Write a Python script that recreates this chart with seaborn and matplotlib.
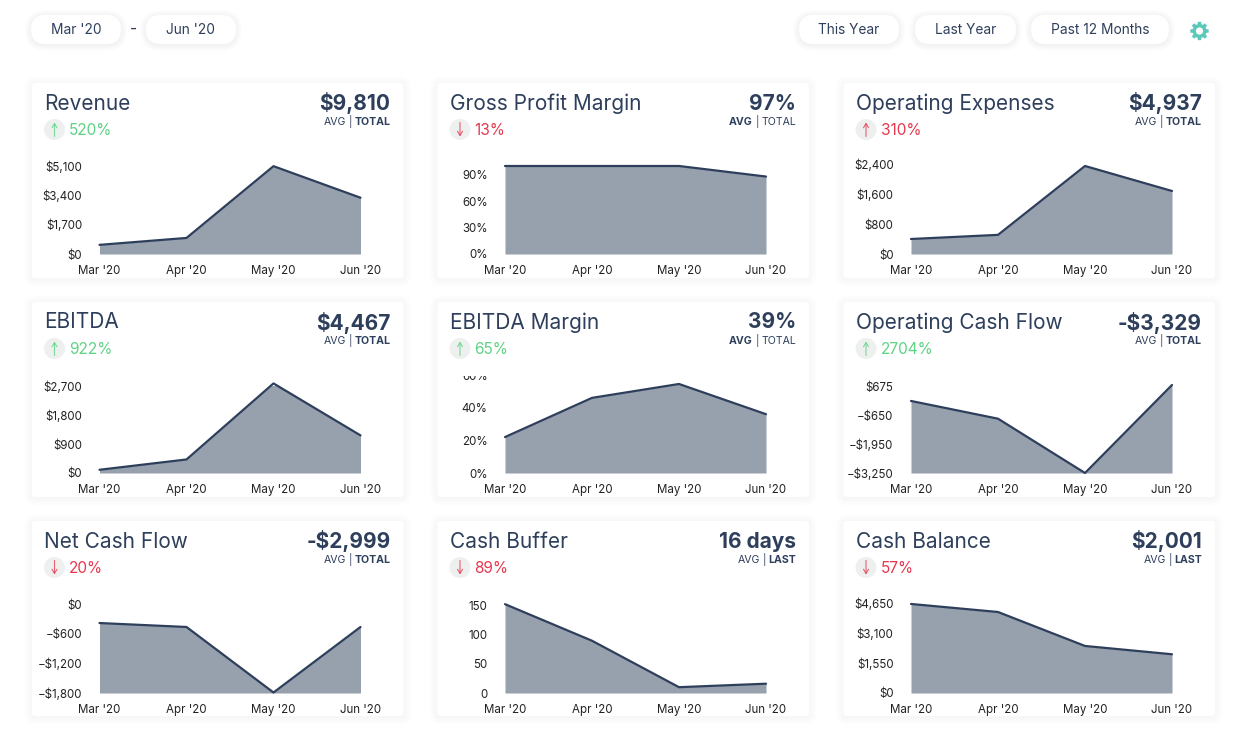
import numpy as np
import pandas as pd
import matplotlib
matplotlib.use("Agg")
import matplotlib.pyplot as plt
from matplotlib.patches import FancyBboxPatch, Circle, Polygon, Rectangle
from matplotlib.ticker import FixedLocator
import seaborn as sns

months = ["Mar '20", "Apr '20", "May '20", "Jun '20"]
titles = ["Revenue", "Gross Profit Margin", "Operating Expenses",
          "EBITDA", "EBITDA Margin", "Operating Cash Flow",
          "Net Cash Flow", "Cash Buffer", "Cash Balance"]
headline = ["$9,810", "97%", "$4,937", "$4,467", "39%", "-$3,329", "-$2,999", "16 days", "$2,001"]
deltas = ["520%", "13%", "310%", "922%", "65%", "2704%", "20%", "89%", "57%"]
delta_up = [True, False, True, True, True, True, False, False, False]
delta_good = [True, False, False, True, True, True, False, False, False]
second_word = ["TOTAL", "TOTAL", "TOTAL", "TOTAL", "TOTAL", "TOTAL", "TOTAL", "LAST", "LAST"]
bold_word = ["second", "first", "second", "second", "first", "second", "second", "second", "second"]

revenue = [530, 930, 5090, 3260]
gross_margin = [100, 100, 100, 88]
opex = [400, 510, 2347, 1680]
ebitda = [100, 420, 2780, 1167]
ebitda_margin = [22, 46, 54.5, 36]
op_cash = [0, -800, -3250, 721]
net_cash = [-385, -465, -1790, -465]
buffer_days = [153, 90, 10, 16]
balance = [4600, 4185, 2430, 2001]
series = [revenue, gross_margin, opex, ebitda, ebitda_margin, op_cash, net_cash, buffer_days, balance]

ticks = [[0, 1700, 3400, 5100], [0, 30, 60, 90], [0, 800, 1600, 2400],
         [0, 900, 1800, 2700], [0, 20, 40, 60], [-3250, -1950, -650, 675],
         [-1800, -1200, -600, 0], [0, 50, 100, 150], [0, 1550, 3100, 4650]]
tick_labels = [["$0", "$1,700", "$3,400", "$5,100"], ["0%", "30%", "60%", "90%"],
               ["$0", "$800", "$1,600", "$2,400"], ["$0", "$900", "$1,800", "$2,700"],
               ["0%", "20%", "40%", "60%"], ["\u2212$3,250", "\u2212$1,950", "\u2212$650", "$675"],
               ["\u2212$1,800", "\u2212$1,200", "\u2212$600", "$0"], ["0", "50", "100", "150"],
               ["$0", "$1,550", "$3,100", "$4,650"]]
ylims = [(0, 5100), (0, 100), (0, 2400), (0, 2700), (0, 60), (-3250, 675), (-1800, 0), (0, 155), (0, 4650)]
ax_heights = [88, 88, 90, 87, 98, 87, 89, 90, 90]

date_pills = [("Mar '20", 31, 121), ("Jun '20", 146, 236)]
range_pills = [("This Year", 799, 899), ("Last Year", 915, 1016), ("Past 12 Months", 1031, 1169)]

W, H = 1241, 734
NAVY = "#2E3F5C"
FILL = "#97A1AE"
GREEN = "#5FD285"
RED = "#E63950"
TEAL = "#5CC8B9"
FONT = "Inter"

sns.set_theme(style="white")
plt.rcParams["font.family"] = [FONT, "DejaVu Sans"]

fig = plt.figure(figsize=(W / 100, H / 100), dpi=100, facecolor="white")
bg = fig.add_axes([0, 0, 1, 1], zorder=0)
bg.set_xlim(0, W)
bg.set_ylim(H, 0)
bg.axis("off")


def soft_box(x0, y0, x1, y1, rad, spread=8, strength=0.005):
    for i in range(spread, 0, -1):
        bg.add_patch(FancyBboxPatch((x0 - i, y0 - i + 1), x1 - x0 + 2 * i, y1 - y0 + 2 * i,
                                    boxstyle=f"round,pad=0,rounding_size={rad + i}",
                                    fc="#3a4a66", ec="none", alpha=strength))
    bg.add_patch(FancyBboxPatch((x0, y0), x1 - x0, y1 - y0,
                                boxstyle=f"round,pad=0,rounding_size={rad}",
                                fc="white", ec="none"))


for label, x0, x1 in date_pills + range_pills:
    soft_box(x0, 15, x1, 44, 14.5, spread=6, strength=0.008)
    bg.text((x0 + x1) / 2, 30.5, label, ha="center", va="center", fontsize=9.9, color=NAVY)
bg.text(133.5, 29, "-", ha="center", va="center", fontsize=11, color=NAVY)

# gear icon
gx, gy = 1199.5, 31
angles = np.linspace(0, 2 * np.pi, 97)
radii = np.where(np.cos(8 * angles) > -0.1, 9.2, 7.0)
bg.add_patch(Polygon(np.c_[gx + radii * np.sin(angles), gy + radii * np.cos(angles)],
                     closed=True, fc=TEAL, ec="none"))
bg.add_patch(Circle((gx, gy), 3.6, fc="white", ec="none"))

col_x = [32, 437.5, 843.5]
row_y = [83, 302, 521]
card_w, card_h = 371.5, 195

for idx, name in enumerate(titles):
    r, c = divmod(idx, 3)
    cx, cy = col_x[c], row_y[r]
    soft_box(cx, cy, cx + card_w, cy + card_h, 3)
    color = GREEN if delta_good[idx] else RED

    bg.text(cx + 12, cy + 20.5, name, ha="left", va="center", fontsize=15, color=NAVY)
    right = cx + card_w - 13
    bg.text(right, cy + 20.5, headline[idx], ha="right", va="center", fontsize=15,
            fontweight="bold", color=NAVY)

    renderer = fig.canvas.get_renderer()
    first_bold = bold_word[idx] == "first"
    t2 = bg.text(right, cy + 39, second_word[idx], ha="right", va="center", fontsize=7.6,
                 fontweight="normal" if first_bold else "bold", color=NAVY)
    x2 = t2.get_window_extent(renderer).x0
    t3 = bg.text(x2 - 2.5, cy + 38.5, "|", ha="right", va="center", fontsize=7.6, color=NAVY)
    x3 = t3.get_window_extent(renderer).x0
    bg.text(x3 - 2.5, cy + 39, "AVG", ha="right", va="center", fontsize=7.6,
            fontweight="bold" if first_bold else "normal", color=NAVY)

    # delta badge
    bx, by = cx + 22.5, cy + 46.5
    bg.add_patch(Circle((bx, by), 10.5, fc="#EEF0EF", ec="none"))
    start, end = (by + 7, by - 7) if delta_up[idx] else (by - 7, by + 7)
    bg.annotate("", xy=(bx, end), xytext=(bx, start),
                arrowprops=dict(arrowstyle="->,head_length=0.25,head_width=0.15",
                                color=color, lw=0.8, alpha=0.8, shrinkA=0, shrinkB=0))
    bg.text(cx + 37, by + 1, deltas[idx], ha="left", va="center", fontsize=11.1, color=color)

    # chart
    base = [254, 473, 693][r]
    ax_left = cx + 67.5
    ax_w = 261
    hpx = ax_heights[idx]
    ax = fig.add_axes([ax_left / W, 1 - base / H, ax_w / W, hpx / H], zorder=2)
    ax.patch.set_alpha(0)
    df = pd.DataFrame({"month": months, "value": series[idx]})
    pos = np.arange(len(months))
    ymin, ymax = ylims[idx]
    ax.fill_between(pos, df["value"], ymin, color=FILL, lw=0, zorder=1)
    sns.lineplot(data=df.assign(pos=pos), x="pos", y="value", color=NAVY, lw=1.6, sort=False,
                 ax=ax, errorbar=None, zorder=2, clip_on=False)
    ax.set_xlim(0, len(months) - 1)
    ax.set_ylim(ymin, ymax)
    ax.set_xticks(pos, months)
    ax.yaxis.set_major_locator(FixedLocator(ticks[idx]))
    ax.set_yticklabels(tick_labels[idx])
    ax.set_xlabel("")
    ax.set_ylabel("")
    ax.tick_params(axis="x", length=0, pad=8, labelsize=8.3, labelcolor="#222222")
    ax.tick_params(axis="y", length=0, pad=12.5, labelsize=8.3, labelcolor="#222222")
    for spine in ax.spines.values():
        spine.set_visible(False)
    ax.grid(False)
    if name == "EBITDA Margin":
        clip = Rectangle((0, 0), W, H - 375.5, transform=None)
        for lab in ax.get_yticklabels():
            lab.set_clip_on(True)
            lab.set_clip_path(clip)

fig.savefig("out.png", dpi=100, facecolor="white")
